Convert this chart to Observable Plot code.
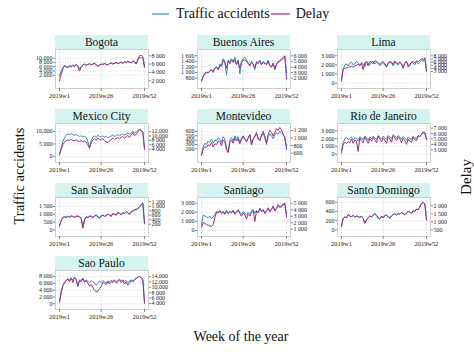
<!DOCTYPE html>
<html>
<head>
<meta charset="utf-8">
<script src="https://cdn.jsdelivr.net/npm/d3@7"></script>
<script src="https://cdn.jsdelivr.net/npm/@observablehq/plot@0.6"></script>
<style>
  html, body { margin: 0; padding: 0; background: #fff; }
  #chart { position: relative; width: 474px; height: 352px; color: #111; overflow: hidden; }
  #chart, #chart * { font-family: "Liberation Serif", "Times New Roman", serif !important; font-weight: normal; }
  .abs { position: absolute; white-space: nowrap; }
</style>
</head>
<body>
<div id="chart"></div>
<script>
// ---------- DATA ----------
const cities = ["Bogota", "Buenos Aires", "Lima", "Mexico City", "Montevideo", "Rio de Janeiro", "San Salvador", "Santiago", "Santo Domingo", "Sao Paulo"];
const weeks = d3.range(1, 53);
const xTickWeeks = [1, 26, 52];
const xTickLabels = ["2019w1", "2019w26", "2019w52"];

const bogotaAccidents = [1500,4000,5500,6500,6300,6000,6600,6200,6800,6400,7000,6500,5000,6000,6800,7200,6700,7000,7400,6900,7200,7600,7000,6500,6900,7300,7100,7500,7200,7000,7400,7700,7300,7600,7900,7500,7800,8000,7600,8200,7900,8300,8100,7800,8400,8200,7600,9000,10200,10300,10000,6500];
const bogotaDelay = [2000,3500,4800,5500,5300,5100,5500,5300,5700,5400,5900,5500,4300,5200,5800,6000,5700,5900,6100,5800,6000,6200,5800,5400,5700,6000,5900,6100,5900,5800,6100,6300,6000,6200,6400,6100,6300,6500,6200,6600,6400,6700,6500,6300,6800,6600,6000,7200,8000,8100,7800,5200];

const buenosAiresAccidents = [700,850,950,1000,980,1050,1100,1000,1150,1200,1100,1300,1250,1500,1400,900,1450,1350,1500,1400,1550,1300,1450,950,1400,1500,1550,1450,1350,1250,1400,1300,1100,1400,1350,1450,1300,1400,1350,1300,1450,1250,1200,1350,1100,1300,1400,1450,1500,1550,1600,1000];
const buenosAiresDelay = [1500,2400,2900,3100,3000,3300,3500,3200,3800,4000,3600,4300,4100,5200,4800,3800,5000,4600,5200,4800,5300,4400,5000,3800,4800,5200,5300,5000,4600,4200,4800,4500,3900,4800,4600,5000,4400,4800,4600,4400,5000,4200,4000,4600,3700,4500,4800,5000,5300,5500,5900,1900];

const limaAccidents = [200,1500,2000,2100,1900,2200,2300,2000,2100,2400,2200,1900,2300,2100,1800,2400,2200,2000,2300,2400,2100,2300,2200,1900,2100,2300,2000,1800,2100,2300,2200,1900,2400,2100,2000,2300,2100,1800,2200,2400,2000,1900,2300,2200,2000,2400,2100,2300,2500,2400,2700,1300];
const limaDelay = [500,3800,4000,4200,4300,4500,4600,4400,4800,5000,5200,5000,5500,3600,5800,6000,4800,6200,6000,5400,6400,6200,5800,5200,5900,6100,5600,4400,5800,6200,6000,5200,6300,5800,5500,6100,5400,4000,5600,6300,4400,5200,6000,6200,5800,6400,6100,6600,7000,6800,7400,3200];

const mexicoCityAccidents = [500,3500,6000,7500,8500,9000,8800,9200,8700,8500,8800,8400,8000,8300,7900,8200,7500,6000,3500,6500,7800,8200,7600,8500,8000,7800,8300,7700,8100,7400,7900,8200,8600,8000,8400,8800,8300,8700,9100,8600,9000,9400,8800,9600,10200,9300,9800,10400,10800,10500,10000,3000];
const mexicoCityDelay = [1800,4000,6000,7200,7800,8200,8000,8400,8000,7800,8200,7800,7500,7900,7400,7800,7200,6000,4400,6800,8200,8800,8000,9000,8400,8100,8800,7800,7400,7000,7800,8400,9000,8400,8800,9300,8700,9200,9800,9000,9600,10200,9300,10500,11500,10000,10800,11800,12800,12400,11600,4000];

const montevideoAccidents = [50,250,330,300,380,350,420,330,400,380,450,420,350,480,430,200,120,400,460,380,500,420,480,350,450,500,430,380,450,520,300,420,480,550,420,380,500,560,450,300,480,550,500,430,520,580,540,600,560,520,480,250];
const montevideoDelay = [550,700,780,750,820,800,880,760,850,830,920,900,800,950,900,700,620,880,950,860,1000,920,980,850,950,1050,980,900,1000,1100,820,980,1050,1150,1000,950,1080,1180,1050,880,1100,1200,1150,1050,1150,1250,1200,1280,1220,1100,1000,700];

const rioAccidents = [100,1500,2000,2100,1900,2000,2200,1800,2100,2000,1700,2200,2000,1900,2300,2100,1800,2200,2000,2300,2100,1900,2400,2200,2000,2300,2100,1900,2400,2200,2000,2500,2300,2100,2400,2200,1900,2300,2100,1800,2200,2000,1900,2300,2100,2000,2400,2300,2500,2700,2600,1900];
const rioDelay = [2800,4000,4400,4200,4500,4300,5000,4200,4800,4600,2700,5200,4600,4300,5400,4800,4200,5100,4600,5300,4800,4300,5500,5000,4500,5200,4800,4200,5400,5000,4400,5600,5200,4700,5400,5000,4300,5100,4700,4000,5000,4600,4400,5300,4900,4700,5600,5400,5900,6300,6200,5000];

const sanSalvadorAccidents = [250,600,800,850,820,880,850,900,870,820,880,900,850,780,100,700,850,820,900,880,820,900,950,870,800,900,950,880,920,1000,950,880,1050,1000,950,1100,1050,980,1100,1050,1150,1100,1000,1150,1200,1250,1300,1350,1450,1600,1700,400];
const sanSalvadorDelay = [110,350,480,520,500,540,500,560,540,500,530,560,520,470,30,400,520,480,560,540,480,550,600,520,460,560,600,540,580,640,600,540,680,640,600,720,680,620,720,680,760,720,640,760,800,840,860,900,980,1080,1150,220];

const santiagoAccidents = [600,1700,1600,1500,1400,1600,1300,1500,1800,2100,2000,2200,1900,2100,1800,2200,1900,2100,2000,2200,1900,2100,2300,2000,1800,2100,1900,1700,2000,1800,2100,2300,1900,2200,2000,2400,2100,2300,2000,2200,2400,2100,2300,2600,2200,2400,2700,2500,2600,2800,2900,1800];
const santiagoDelay = [1300,2000,1900,1700,1600,1500,1400,1700,2800,3600,3500,3800,3400,3700,3300,3800,3400,3700,3500,3900,3300,3600,3900,3400,3000,3500,3200,2600,3300,3000,3600,3900,2200,3800,3500,4200,3700,4000,3400,3800,4300,3700,4100,4600,3800,4300,4800,4400,4600,4900,5000,2900];

const santoDomingoAccidents = [80,250,280,260,330,300,290,310,280,300,290,270,300,250,150,220,260,300,280,320,360,300,250,230,280,260,300,330,280,250,300,330,350,320,360,340,380,350,330,370,400,380,360,420,400,450,430,500,580,600,560,220];
const santoDomingoDelay = [700,1200,1300,1250,1450,1350,1330,1400,1300,1350,1330,1280,1350,1200,900,1100,1250,1360,1300,1400,1500,1400,1300,1200,1350,1300,1380,1420,1300,1250,1380,1450,1500,1430,1520,1470,1580,1500,1450,1560,1650,1600,1540,1700,1650,1800,1740,1950,2150,2200,2100,1100];

const saoPauloAccidents = [600,3500,5500,6300,6800,7200,6900,7500,7000,7800,7200,5000,7000,6800,7500,6500,7000,6600,6200,6800,6500,6000,5500,6200,6600,6300,6800,6500,6100,6700,6400,6900,6600,7000,6500,6800,7200,6700,7000,6500,6800,6200,6600,7000,6700,7200,7500,7800,8000,7600,7200,200];
const saoPauloDelay = [4500,8000,10500,11500,12500,13200,12000,13500,11800,13800,12800,10500,12600,12000,13400,11800,12500,11500,10500,11000,10000,8800,8400,8600,9500,10200,11800,11500,11000,12000,11300,12200,11800,12500,11600,12000,12800,11800,12400,11200,12000,10800,11600,12500,12000,12800,13300,13700,14000,13500,12600,4200];

const accidentsSeries = [bogotaAccidents, buenosAiresAccidents, limaAccidents, mexicoCityAccidents, montevideoAccidents, rioAccidents, sanSalvadorAccidents, santiagoAccidents, santoDomingoAccidents, saoPauloAccidents];
const delaySeries = [bogotaDelay, buenosAiresDelay, limaDelay, mexicoCityDelay, montevideoDelay, rioDelay, sanSalvadorDelay, santiagoDelay, santoDomingoDelay, saoPauloDelay];

// Tick values (left: traffic accidents, right: delay)
const accidentTicks = [
  [2000,4000,6000,8000,10000],
  [800,1000,1200,1400,1600],
  [0,1000,2000,3000],
  [0,5000,10000],
  [200,300,400,500,600],
  [0,1000,2000,3000],
  [0,500,1000,1500],
  [0,1000,2000,3000],
  [0,200,400,600],
  [0,2000,4000,6000,8000]
];
const delayTicks = [
  [2000,4000,6000,8000],
  [2000,3000,4000,5000,6000],
  [3000,4000,5000,6000,7000,8000],
  [4000,6000,8000,10000,12000],
  [600,800,1000,1200],
  [3000,4000,5000,6000,7000],
  [200,400,600,800,1000,1200],
  [1000,2000,3000,4000,5000],
  [500,1000,1500,2000],
  [4000,6000,8000,10000,12000,14000]
];
// Axis ranges
const accidentDomains = [[-4300,14100],[430,1825],[-580,3690],[-2400,13200],[-116,785],[-1064,3936],[-431,2080],[-659,3626],[-145,702],[-1670,9758]];
const delayDomains = [[150,9500],[160,7125],[-2400,10000],[-2000,15600],[354,1385],[648,7870],[-350,1390],[-123,5877],[81,2519],[1780,16220]];

// ---------- STYLE / LAYOUT ----------
const FONT = "Liberation Serif";
const ACC_COLOR = "#3590b8";
const DELAY_COLOR = "#a02c80";
const STRIP_FILL = "#d5f4ef";
const colX = [55, 197, 337];
const rowY = [35, 109, 183, 256];
const FW = 93, FH = 39, STRIP_H = 14;
const ML = 30, MR = 26, MB = 18;

const fmt = d => {
  if (Math.abs(d) >= 10000) return d3.format(",")(d);
  if (Math.abs(d) >= 1000) return d3.format(",")(d).replace(",", " ");
  return String(d);
};

const chart = document.getElementById("chart");
function addText(txt, css) {
  const el = document.createElement("div");
  el.className = "abs";
  el.textContent = txt;
  Object.assign(el.style, css);
  chart.appendChild(el);
  return el;
}

// Legend
const legend = document.createElement("div");
legend.className = "abs";
Object.assign(legend.style, {left: "152px", top: "4px", fontSize: "14px", lineHeight: "20px", display: "flex", alignItems: "center"});
legend.innerHTML =
  `<svg width="17" height="4" style="margin-right:7px"><line x1="0" y1="2" x2="17" y2="2" stroke="${ACC_COLOR}" stroke-width="1.2"/></svg>` +
  `<span>Traffic accidents</span>` +
  `<svg width="19" height="4" style="margin:0 6px 0 1px"><line x1="0" y1="2" x2="19" y2="2" stroke="${DELAY_COLOR}" stroke-width="1.2"/></svg>` +
  `<span>Delay</span>`;
chart.appendChild(legend);

// Global axis titles
addText("Traffic accidents", {left: "19px", top: "176px", fontSize: "14.5px", transform: "translate(-50%,-50%) rotate(-90deg)"});
addText("Delay", {left: "466px", top: "177px", fontSize: "15px", transform: "translate(-50%,-50%) rotate(-90deg)"});
addText("Week of the year", {left: "241px", top: "337px", fontSize: "14px", transform: "translate(-50%,-50%)"});

cities.forEach((name, i) => {
  const col = i % 3, row = Math.floor(i / 3);
  const fx = colX[col], st = rowY[row];
  const ft = st + STRIP_H;

  addText(name, {left: fx + "px", top: st + "px", width: FW + "px", height: STRIP_H + "px",
    background: STRIP_FILL, fontSize: "11.5px", lineHeight: STRIP_H + "px", textAlign: "center"});

  const rows = weeks.map((w, j) => ({week: w, acc: accidentsSeries[i][j], delay: delaySeries[i][j]}));

  const common = {
    width: ML + FW + MR, height: FH + MB,
    marginLeft: ML, marginRight: MR, marginTop: 0, marginBottom: MB,
    style: {background: "transparent", overflow: "visible", fontFamily: FONT, color: "#222",
      position: "absolute", left: (fx - ML) + "px", top: ft + "px"},
    x: {domain: [1, 52], insetLeft: 4, insetRight: 4}
  };

  const pAcc = Plot.plot({
    ...common,
    y: {domain: accidentDomains[i]},
    marks: [
      Plot.frame({stroke: "#cfcfcf"}),
      Plot.gridX(xTickWeeks, {stroke: "#bdbdbd", strokeOpacity: 0.7, strokeDasharray: "1,1.5"}),
      Plot.gridY(accidentTicks[i], {stroke: "#bdbdbd", strokeOpacity: 0.5, strokeDasharray: "1,1.5"}),
      Plot.axisX(xTickWeeks, {tickFormat: (d, k) => xTickLabels[k], fontSize: 6.5, fontFamily: FONT, tickSize: 3, tickPadding: 2, stroke: "#888", label: null}),
      Plot.axisY(accidentTicks[i], {anchor: "left", tickFormat: fmt, fontSize: 6, fontFamily: FONT, tickSize: 2, tickPadding: 1, stroke: "#888", label: null}),
      Plot.line(rows, {x: "week", y: "acc", stroke: ACC_COLOR, strokeWidth: 1})
    ]
  });
  const pDelay = Plot.plot({
    ...common,
    x: {...common.x, axis: null},
    y: {domain: delayDomains[i]},
    marks: [
      Plot.axisY(delayTicks[i], {anchor: "right", tickFormat: fmt, fontSize: 6, fontFamily: FONT, tickSize: 2, tickPadding: 1, stroke: "#888", label: null}),
      Plot.line(rows, {x: "week", y: "delay", stroke: DELAY_COLOR, strokeWidth: 1})
    ]
  });
  chart.appendChild(pAcc);
  chart.appendChild(pDelay);
});
</script>
</body>
</html>
